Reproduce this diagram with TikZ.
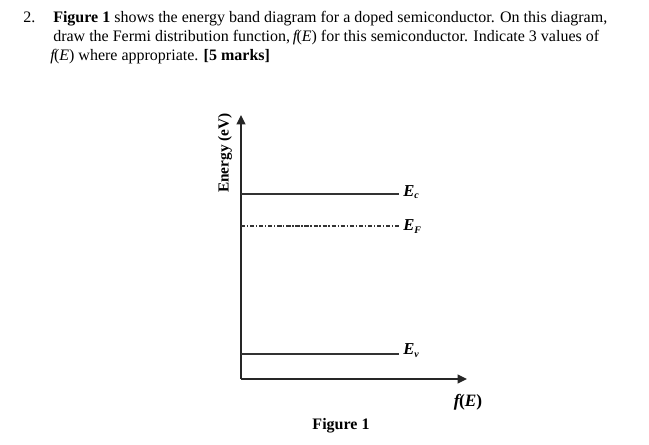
\documentclass[tikz,border=0pt]{standalone}
\usepackage{fontspec}
\setmainfont{Liberation Serif}
\usetikzlibrary{arrows.meta}
\newcommand\TextLine[4]{%
    \node[anchor=base west,inner sep=0pt,font=\fontsize{12}{14}\selectfont] (#1) at (#2,#3) {#4};
}
\newcommand\BandLine[5]{%
    \coordinate (#1Start) at (Origin |- 0,#2);
    \coordinate (#1End) at (399,#2);
    \draw[#3] (#1Start) -- (#1End);
    \node[right,inner sep=0pt,xshift=3pt,yshift=#5] (#1Label) at (#1End) {#4};
}
\newcommand\fE{\textit{f\kern-0.5pt}(\textit{E})}
\newcommand\Lev[1]{{\fontsize{12.5}{14}\selectfont\textbf{\textit{E}}}\raisebox{-2pt}{\fontsize{7.5}{8}\selectfont\textbf{\textit{#1}}}}
\tikzset{
    axis/.style={line width=1.1pt,color=black!85,-{Triangle[length=7pt,width=6.5pt]}},
    band/.style={line width=0.8pt,color=black!80},
    fermi/.style={band,dash pattern=on 3.2pt off 1.2pt on 1pt off 1.4pt},
}
\begin{document}
\begin{tikzpicture}[x=0.75pt,y=0.75pt]
    \useasboundingbox (0,0) rectangle (649,445);
    % question text
    \TextLine{num}{23}{422}{2.}
    \TextLine{lineA}{53}{422}{\textbf{Figure 1} shows the energy band diagram for a doped semiconductor. On this diagram,}
    \TextLine{lineB}{53}{403.5}{draw the Fermi distribution function,\,\fE\ for this semiconductor. Indicate 3 values of}
    \TextLine{lineC}{50}{384.5}{\fE\ where appropriate. \textbf{[5 marks]}}
    % axes
    \coordinate (Origin) at (241,66);
    \coordinate (TopEnd) at (241,330);
    \coordinate (RightEnd) at (467,66);
    \draw[axis] (Origin) -- (TopEnd);
    \draw[axis] (Origin) -- (RightEnd);
    % levels
    \BandLine{Ec}{251}{band}{\Lev{c}}{1.5pt}
    \BandLine{Ef}{219}{fermi}{\Lev{F}}{-0.5pt}
    \BandLine{Ev}{91}{band}{\Lev{v}}{2.5pt}
    \node[rotate=90,font=\fontsize{11.5}{13}\selectfont\bfseries] (Energy) at (225,292) {Energy (eV)};
    \node[font=\fontsize{13}{15}\selectfont\bfseries] (FuncLabel) at (468,43) {\fE};
    \node[font=\fontsize{12}{14}\selectfont\bfseries] (Caption) at (341,19) {Figure 1};
\end{tikzpicture}
\end{document}
